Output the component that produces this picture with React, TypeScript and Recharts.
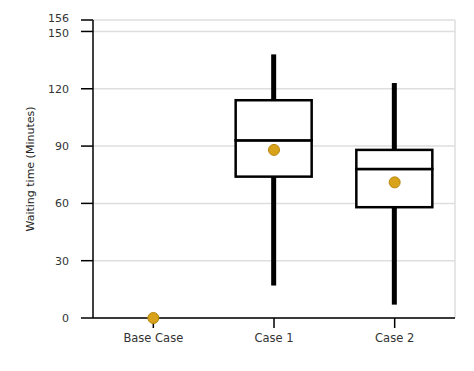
import React from "react";
import {
  ComposedChart,
  Bar,
  Scatter,
  XAxis,
  YAxis,
  CartesianGrid,
} from "recharts";

const categories = ["Base Case", "Case 1", "Case 2"];
const mins = [0, 17, 7];
const q1s = [0, 74, 58];
const medians = [0, 93, 78];
const q3s = [0, 114, 88];
const maxs = [0, 138, 123];
const means = [0, 88, 71];
const yTicks = [0, 30, 60, 90, 120, 150, 156];

const data = categories.map((name, i) => ({
  name,
  base: mins[i],
  lowWhisker: q1s[i] - mins[i],
  lowBox: medians[i] - q1s[i],
  highBox: q3s[i] - medians[i],
  highWhisker: maxs[i] - q3s[i],
  mean: means[i],
}));

const FONT = "'DejaVu Sans', Tahoma, sans-serif";

const Nothing = () => null;

const Whisker = (props: any) => {
  const { x, y, width, height } = props;
  if (!height || height <= 0) return null;
  return <rect x={x + width / 2 - 2.5} y={y} width={5} height={height} fill="#000" />;
};

const BoxPart = (props: any) => {
  const { x, y, width, height } = props;
  if (!height || height <= 0) return null;
  return (
    <rect x={x} y={y} width={width} height={height} fill="#fff" stroke="#000" strokeWidth={2.5} />
  );
};

const MeanDot = (props: any) => {
  const { cx, cy } = props;
  return <circle cx={cx} cy={cy} r={5.5} fill="#D9A21B" stroke="#B8860B" strokeWidth={1} />;
};

// the top two ticks sit very close, so nudge them apart a little
const YTick = (props: any) => {
  const { x, y, payload } = props;
  const nudge = payload.value === 156 ? -1.5 : payload.value === 150 ? 1.5 : 0;
  return (
    <text
      x={x}
      y={y + nudge}
      dy="0.355em"
      textAnchor="end"
      fill="#333"
      fontSize={11}
      fontFamily={FONT}
    >
      {payload.value}
    </text>
  );
};

export default function App() {
  return (
    <div style={{ position: "absolute", left: 0, top: 0, background: "#fff" }}>
      <ComposedChart
        width={474}
        height={371}
        data={data}
        margin={{ top: 20, right: 19, bottom: 23, left: 0 }}
        barSize={76}
      >
        <CartesianGrid
          stroke="#dedede"
          strokeWidth={1.5}
          verticalCoordinatesGenerator={({ offset }: any) => [offset.left + offset.width]}
        />
        <XAxis
          dataKey="name"
          height={30}
          tickSize={10}
          tickMargin={6}
          axisLine={{ stroke: "#000", strokeWidth: 1.5 }}
          tickLine={{ stroke: "#000", strokeWidth: 1.5 }}
          tick={{ fill: "#333", fontSize: 11.5, fontFamily: FONT }}
        />
        <YAxis
          width={93}
          domain={[0, 156]}
          ticks={yTicks}
          interval={0}
          tickSize={12}
          tickMargin={12}
          axisLine={{ stroke: "#000", strokeWidth: 1.5 }}
          tickLine={{ stroke: "#000", strokeWidth: 1.5 }}
          tick={<YTick />}
          label={{
            value: "Waiting time (Minutes)",
            angle: -90,
            position: "center",
            dx: -16,
            style: { fill: "#222", fontSize: 11, fontFamily: FONT, textAnchor: "middle" },
          }}
        />
        <Bar dataKey="base" stackId="box" shape={<Nothing />} isAnimationActive={false} />
        <Bar dataKey="lowWhisker" stackId="box" shape={<Whisker />} isAnimationActive={false} />
        <Bar dataKey="lowBox" stackId="box" shape={<BoxPart />} isAnimationActive={false} />
        <Bar dataKey="highBox" stackId="box" shape={<BoxPart />} isAnimationActive={false} />
        <Bar dataKey="highWhisker" stackId="box" shape={<Whisker />} isAnimationActive={false} />
        <Scatter dataKey="mean" shape={<MeanDot />} isAnimationActive={false} />
      </ComposedChart>
    </div>
  );
}
